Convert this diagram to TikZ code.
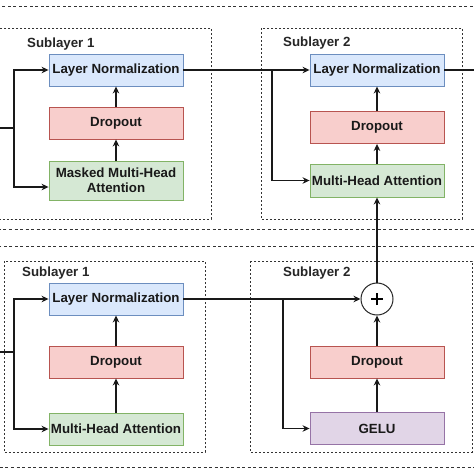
\documentclass[tikz,border=0pt]{standalone}
\usepackage{fontspec}
\setmainfont{Liberation Sans}
\usetikzlibrary{arrows.meta}
\definecolor{bfill}{HTML}{DAE8FC}\definecolor{bdraw}{HTML}{6C8EBF}
\definecolor{rfill}{HTML}{F8CECC}\definecolor{rdraw}{HTML}{B85450}
\definecolor{gfill}{HTML}{D5E8D4}\definecolor{gdraw}{HTML}{82B366}
\definecolor{pfill}{HTML}{E1D5E7}\definecolor{pdraw}{HTML}{9673A6}
\begin{document}
\begin{tikzpicture}[x=1pt,y=-1pt,
  blk/.style={draw, line width=0.9pt, minimum width=134pt, minimum height=32pt, inner sep=0pt,
    font=\fontsize{13.3}{15}\selectfont\bfseries, text=black!90, align=center},
  lnbox/.style={blk, fill=bfill, draw=bdraw},
  dpbox/.style={blk, fill=rfill, draw=rdraw},
  grbox/.style={blk, fill=gfill, draw=gdraw},
  pubox/.style={blk, fill=pfill, draw=pdraw},
  wire/.style={line width=1.3pt, draw=black!90},
  conn/.style={wire, -{Stealth[length=7pt,width=6.5pt]}},
  outerbox/.style={draw=black!80, line width=1pt, dash pattern=on 3pt off 2.5pt},
  subbox/.style={draw=black!80, line width=1pt, dash pattern=on 2pt off 2pt},
  lbl/.style={font=\fontsize{13.3}{15}\selectfont\bfseries, text=black!85, anchor=west, inner sep=0pt}
]
\useasboundingbox (0,0) rectangle (474,474);
\clip (0,0) rectangle (474,474);
\fill[white] (0,0) rectangle (474,474);

% outer dashed boxes
\draw[outerbox] (-10,6) rectangle (484,229);
\draw[outerbox] (-10,246) rectangle (484,467);

% sublayer boxes
\draw[subbox] (-10,28) rectangle (211,219);
\draw[subbox] (261,28) rectangle (462,219);
\draw[subbox] (4,261) rectangle (205,452);
\draw[subbox] (250,261) rectangle (472,452);

% labels
\node[lbl] (s1) at (27,44) {Sublayer 1};
\node[lbl] (s2) at (283,43) {Sublayer 2};
\node[lbl] (s3) at (22,273) {Sublayer 1};
\node[lbl] (s4) at (283,273) {Sublayer 2};

% top row
\node[lnbox] (ln1) at (116,70) {Layer Normalization};
\node[dpbox] (dp1) at (116,123) {Dropout};
\node[grbox, minimum height=39pt] (mh1) at (116,180.5) {Masked Multi-Head\\Attention};
\node[lnbox] (ln2) at (377,70) {Layer Normalization};
\node[dpbox] (dp2) at (377,127.5) {Dropout};
\node[grbox, minimum height=33pt] (mh2) at (377,180.5) {Multi-Head Attention};

% bottom row
\node[lnbox] (ln3) at (116,299) {Layer Normalization};
\node[dpbox] (dp3) at (116,362) {Dropout};
\node[grbox] (mh3) at (116,429) {Multi-Head Attention};
\node[circle, draw=black!85, line width=1pt, fill=white, minimum size=32pt, inner sep=0pt] (plus) at (377,299) {};
\draw[line width=1.4pt] ([xshift=-6pt]plus.center) -- ([xshift=6pt]plus.center);
\draw[line width=1.4pt] ([yshift=-6pt]plus.center) -- ([yshift=6pt]plus.center);
\node[dpbox] (dp4) at (377,362) {Dropout};
\node[pubox] (gelu) at (377,428.5) {GELU};

% connectors top
\coordinate (in1) at (-2,128);
\coordinate (j1) at (14,128);
\draw[wire] (in1) -- (j1);
\draw[conn] (j1) |- (ln1.west);
\draw[conn] (j1) |- ([yshift=-6.5pt]mh1.west);
\draw[conn] (mh1) -- (dp1);
\draw[conn] (dp1) -- (ln1);
\draw[conn] (ln1.east) -- (ln2.west);
\coordinate (j2) at (272,70);
\draw[conn] (j2) |- (mh2.west);
\draw[conn] (mh2) -- (dp2);
\draw[conn] (dp2) -- (ln2);
\coordinate (out2) at (480,70);
\draw[wire] (ln2.east) -- (out2);
\draw[conn] (plus.north) -- (mh2.south);

% connectors bottom
\coordinate (in3) at (-2,352);
\coordinate (j3) at (14,352);
\draw[wire] (in3) -- (j3);
\draw[conn] (j3) |- (ln3.west);
\draw[conn] (j3) |- (mh3.west);
\draw[conn] (mh3) -- (dp3);
\draw[conn] (dp3) -- (ln3);
\draw[conn] (ln3.east) -- (plus.west);
\coordinate (j4) at (283,299);
\draw[conn] (j4) |- (gelu.west);
\draw[conn] (gelu) -- (dp4);
\draw[conn] (dp4) -- (plus.south);
\end{tikzpicture}
\end{document}
